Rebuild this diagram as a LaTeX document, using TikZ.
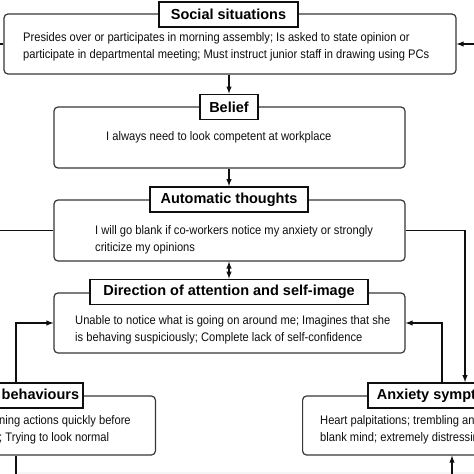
\documentclass[tikz,border=0pt]{standalone}
\usepackage{fontspec}
\usepackage{xcolor}
\setmainfont{Liberation Sans}
\newfontfamily\bodyfont[FakeStretch=0.9]{Liberation Sans}
\definecolor{boxgray}{RGB}{55,55,55}
\definecolor{inkblack}{RGB}{15,15,15}

\begin{document}
\begin{tikzpicture}[x=1pt, y=-1pt, >=latex,
    panel/.style={draw=boxgray, line width=1.2pt, rounded corners=4pt, inner sep=0pt},
    head/.style={draw=inkblack, line width=1.8pt, fill=white, minimum height=25pt,
      inner xsep=5pt, font=\fontsize{14.5}{16}\selectfont\bfseries},
    body/.style={anchor=north west, align=left, inner sep=0pt, text=inkblack,
      font=\bodyfont\fontsize{12.4}{17.5}\selectfont},
    link/.style={draw=inkblack, line width=1.4pt}]
      % Frame of the cropped figure
      \useasboundingbox (0,0) rectangle (474,474);
      \clip (0,0) rectangle (474,474);
      \fill[white] (0,0) rectangle (474,474);
      \fill[gray!7] (18,472) rectangle (480,480);
      % Social situations
      \node[panel, minimum width=452pt, minimum height=60pt] (sitbox) at (230,44) {};
      \node[head, minimum width=139pt] (sithead) at (228.5,14.5) {Social situations};
      \node[body] (sittext) at (23,32)
        {Presides over or participates in morning assembly; Is asked to state opinion or\\
         participate in departmental meeting; Must instruct junior staff in drawing using PCs};
      % Belief
      \node[panel, minimum width=351pt, minimum height=61pt] (belbox) at (229.5,137.5) {};
      \node[head, minimum width=58pt] (belhead) at (229,107) {Belief};
      \node[body] (beltext) at (106,131) {I always need to look competent at workplace};
      % Automatic thoughts
      \node[panel, minimum width=351pt, minimum height=61pt] (atbox) at (229.5,230.5) {};
      \node[head, minimum width=158pt] (athead) at (229,199.5) {Automatic thoughts};
      \node[body] (attext) at (95,225)
        {I will go blank if co-workers notice my anxiety or strongly\\
         criticize my opinions};
      % Direction of attention and self-image
      \node[panel, minimum width=351pt, minimum height=60pt] (dirbox) at (229.5,323) {};
      \node[head, minimum width=278pt] (dirhead) at (229,292) {Direction of attention and self-image};
      \node[body] (dirtext) at (75,315)
        {Unable to notice what is going on around me; Imagines that she\\
         is behaving suspiciously; Complete lack of self-confidence};
      % Safety behaviours (cut at the left edge)
      \node[panel, minimum width=200pt, minimum height=59pt, anchor=east] (safebox) at (156,425.5) {};
      \node[head, anchor=east, inner xsep=4pt] (safehead) at (84,395.5) {Safety behaviours};
      \node[body] (safetext) at (-1,415)
        {ning actions quickly before\\
         ; Trying to look normal};
      % Anxiety symptoms (cut at the right edge)
      \node[panel, minimum width=200pt, minimum height=59pt, anchor=west] (anxbox) at (302,425.5) {};
      \node[head, anchor=west, inner xsep=9pt] (anxhead) at (367,395.5) {Anxiety symptoms};
      \node[body] (anxtext) at (320,415)
        {Heart palpitations; trembling and\\
         blank mind; extremely distressing};
      % Free ends outside the crop
      \coordinate (outL1) at (-6,44);
      \coordinate (outR1) at (480,44);
      \coordinate (outL2) at (-6,229);
      \coordinate (outB1) at (16,480);
      \coordinate (outB2) at (452,480);
      % Main chain
      \draw[link, ->] (sitbox.south -| belhead.north) -- (belhead.north);
      \draw[link, ->] (belbox.south -| athead.north) -- (athead.north);
      \draw[link, <->] (atbox.south -| dirhead.north) -- (dirhead.north);
      % Loops
      \draw[link] (sitbox.west) -- (outL1);
      \draw[link, ->] (outR1) -- (sitbox.east);
      \draw[link] (atbox.west) -- (outL2 |- atbox.west);
      \draw[link, ->] (atbox.east) -| ([xshift=98pt]anxhead.north west);
      \draw[link, ->] ([xshift=75pt]anxhead.north west) |- (dirbox.east);
      \draw[link, ->] ([xshift=-68pt]safehead.north east) |- (dirbox.west);
      \draw[link] (safebox.south -| outB1) -- (outB1);
      \draw[link, ->] (outB2) -- (anxbox.south -| outB2);
\end{tikzpicture}
\end{document}
